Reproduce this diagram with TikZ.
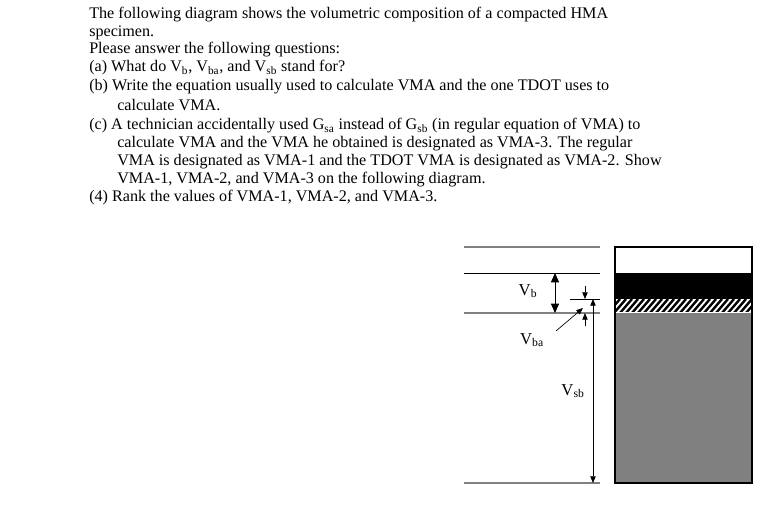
\documentclass[tikz,border=0pt]{standalone}
\usepackage{fontspec}
\setmainfont{Liberation Serif}
\usetikzlibrary{arrows.meta}
\begin{document}
\begin{tikzpicture}[x=0.75pt,y=-0.75pt,
  txt/.style={anchor=west,inner sep=0,font=\fontsize{12.1}{14}\selectfont},
  lbl/.style={inner sep=0,font=\fontsize{12.5}{14}\selectfont},
  dim/.style={-{Triangle[length=5pt,width=4pt]},line width=0.5pt},
  bigdim/.style={-{Triangle[length=7pt,width=6pt]},line width=0.7pt},
  gl/.style={gray,line width=0.9pt}]
\useasboundingbox (0,0) rectangle (772,523);
\node[txt] (t1) at (89,15) {The following diagram shows the volumetric composition of a compacted HMA};
\node[txt] (t2) at (89,33) {specimen.};
\node[txt] (t3) at (89,50) {Please answer the following questions:};
\node[txt] (t4) at (89,68) {(a) What do V\textsubscript{b}, V\textsubscript{ba}, and V\textsubscript{sb} stand for?};
\node[txt] (t5) at (89,87) {(b) Write the equation usually used to calculate VMA and the one TDOT uses to};
\node[txt] (t6) at (117,105) {calculate VMA.};
\node[txt] (t7) at (89,126) {(c) A technician accidentally used G\textsubscript{sa} instead of G\textsubscript{sb} (in regular equation of VMA) to};
\node[txt] (t8) at (117,144) {calculate VMA and the VMA he obtained is designated as VMA-3. The regular};
\node[txt] (t9) at (117,162) {VMA is designated as VMA-1 and the TDOT VMA is designated as VMA-2. Show};
\node[txt] (t10) at (117,180) {VMA-1, VMA-2, and VMA-3 on the following diagram.};
\node[txt] (t11) at (89,198) {(4) Rank the values of VMA-1, VMA-2, and VMA-3.};
% lines
\draw[gl] (464,247) -- (600,247);
\draw[line width=0.6pt] (464,273) -- (600,273);
\draw[gl] (464,313) -- (600,313);
\draw[gl] (464,483) -- (600,483);
\draw[line width=0.5pt] (570,299) -- (600,299);
% box
\fill[black!50] (615,313) rectangle (752,483);
\fill[black] (615,273) rectangle (752,299);
\begin{scope}
\clip (615,300) rectangle (752,312);
\foreach \i in {0,...,25} {\draw[line width=1.8pt] (608+\i*6,313) -- (620+\i*6,299);}
\end{scope}
\draw[line width=1pt] (615,247) rectangle (752,483);
% dimensions
\coordinate (vbt) at (555,273); \coordinate (vbb) at (555,313);
\draw[bigdim] (555,293) -- (vbt); \draw[bigdim] (555,293) -- (vbb);
\coordinate (a1) at (585,286); \coordinate (a1e) at (585,299);
\coordinate (a2) at (585,326); \coordinate (a2e) at (585,313);
\draw[dim] (a1) -- (a1e); \draw[dim] (a2) -- (a2e);
\coordinate (st) at (593,299); \coordinate (sb) at (593,483);
\draw[dim] (593,390) -- (st); \draw[dim] (593,390) -- (sb);
\coordinate (bs) at (556,331); \coordinate (be) at (583,308);
\draw[dim] (bs) -- (be);
\node[lbl] (lvb) at (528,291) {V\textsubscript{b}};
\node[lbl] (lvba) at (532,340) {V\textsubscript{ba}};
\node[lbl] (lvsb) at (573,391) {V\textsubscript{sb}};
\end{tikzpicture}
\end{document}
